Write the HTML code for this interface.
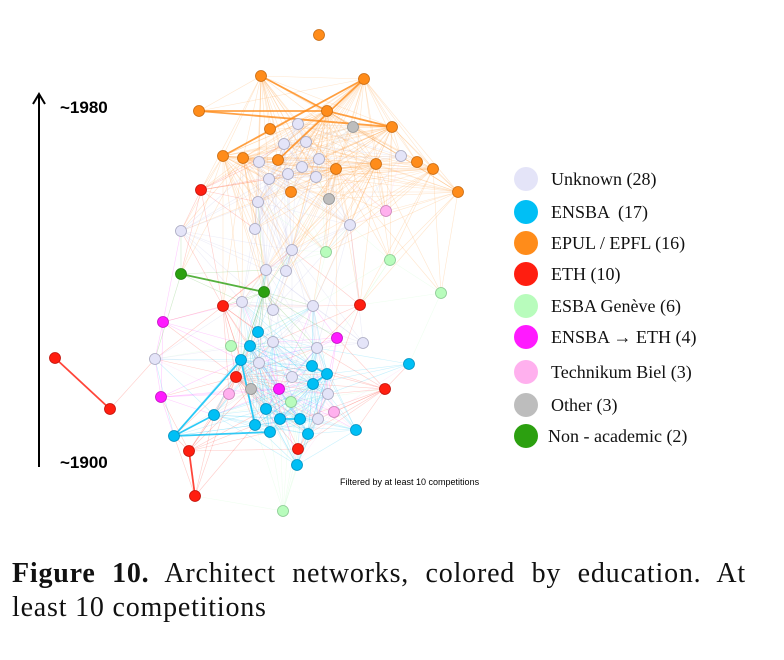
<!DOCTYPE html>
<html><head><meta charset="utf-8"><style>
body{margin:0;background:#fff;width:784px;height:660px;overflow:hidden;position:relative}
.cap{position:absolute;left:12px;width:734px;font-family:"Liberation Serif",serif;font-size:28px;letter-spacing:0.8px;color:#111;line-height:34px;white-space:nowrap}
</style></head><body>
<svg id="chart" width="784" height="540" style="position:absolute;left:0;top:0">
<g id="edges"></g>
<g id="nodes"></g>
<line x1="39" y1="467" x2="39" y2="96" stroke="#000" stroke-width="2"/>
<path d="M33,104 L39,94 L45,104" fill="none" stroke="#000" stroke-width="2"/>
<text x="60" y="113" font-family="Liberation Sans,sans-serif" font-weight="bold" font-size="17">~1980</text>
<text x="60" y="468" font-family="Liberation Sans,sans-serif" font-weight="bold" font-size="17">~1900</text>
<text x="340" y="485" font-family="Liberation Sans,sans-serif" font-size="9">Filtered by at least 10 competitions</text>
<g id="legend"></g>
</svg>
<div class="cap" style="top:557px;text-align:justify;text-align-last:justify"><b>Figure 10.</b> Architect networks, colored by education. At</div>
<div class="cap" style="top:591px;text-align:left">least 10 competitions</div>
<script>
const categories=["Unknown (28)","ENSBA  (17)","EPUL / EPFL (16)","ETH (10)","ESBA Genève (6)","ENSBA → ETH (4)","Technikum Biel (3)","Other (3)","Non - academic (2)"];
const colors=["#e4e4f8","#00bff5","#ff8c1a","#ff1e10","#b8fcbc","#ff1aff","#ffb0ee","#bdbdbd","#2ca010"];
const strokes=["#a8a8c0","#0090c0","#c86a10","#c01008","#88c890","#c010c0","#c880b8","#909090","#208010"];
const nodeX=[319,261,364,199,327,392,270,223,243,278,336,376,417,433,458,291,
201,353,329,298,284,306,259,319,302,288,269,316,401,258,255,350,181,386,
292,266,286,242,313,273,273,317,363,155,259,292,328,318,
326,390,441,231,291,283,181,264,223,360,55,236,110,385,189,298,195,
163,337,161,279,229,334,251,
258,250,241,312,327,313,409,266,214,280,300,255,270,308,356,174,297];
const nodeY=[35,76,79,111,111,127,129,156,158,160,169,164,162,169,192,192,
190,127,199,124,144,142,162,159,167,174,179,177,156,202,229,225,231,211,
250,270,271,302,306,310,342,348,343,359,363,377,394,419,
252,260,293,346,402,511,274,292,306,305,358,377,409,389,451,449,496,
322,338,397,389,394,412,389,
332,346,360,366,374,384,364,409,415,419,419,425,432,434,430,436,465];
const nodeCat=[2,2,2,2,2,2,2,2,2,2,2,2,2,2,2,2,
3,7,7,0,0,0,0,0,0,0,0,0,0,0,0,0,0,6,
0,0,0,0,0,0,0,0,0,0,0,0,0,0,
4,4,4,4,4,4,8,8,3,3,3,3,3,3,3,3,3,
5,5,5,5,6,6,7,
1,1,1,1,1,1,1,1,1,1,1,1,1,1,1,1,1];
const strongEdges=[[3,4],[3,5],[4,5],[1,4],[9,2],[7,2],[58,60],[62,64],[80,87],[74,87],[75,76],[76,77],[84,87],[81,82],[54,55],[74,83]];
const ns="http://www.w3.org/2000/svg";
const eg=document.getElementById('edges'),ng=document.getElementById('nodes'),lg=document.getElementById('legend');
const N=nodeX.length;
for(let i=0;i<N;i++){for(let j=i+1;j<N;j++){
 const dx=nodeX[i]-nodeX[j],dy=nodeY[i]-nodeY[j],d=Math.sqrt(dx*dx+dy*dy);
 const same=nodeCat[i]===nodeCat[j];
 const lim=(nodeCat[i]===2||nodeCat[j]===2)?170:(same?130:95);
 if(d<lim && ((i*7+j*3)%3!==0)){
  const l=document.createElementNS(ns,'line');
  
  
  l.setAttribute('x1',nodeX[i]);l.setAttribute('y1',nodeY[i]);l.setAttribute('x2',nodeX[j]);l.setAttribute('y2',nodeY[j]);
  const c=nodeCat[i]===0?colors[nodeCat[j]]:colors[nodeCat[i]];
  l.setAttribute('stroke',c==="#e4e4f8"?"#b0b0e0":c);l.setAttribute('stroke-width','0.6');l.setAttribute('opacity','0.22');
  eg.appendChild(l);
 }}}
strongEdges.forEach(e=>{
 const l=document.createElementNS(ns,'line');
 
 
 l.setAttribute('x1',nodeX[e[0]]);l.setAttribute('y1',nodeY[e[0]]);l.setAttribute('x2',nodeX[e[1]]);l.setAttribute('y2',nodeY[e[1]]);
 l.setAttribute('stroke',colors[nodeCat[e[0]]]);l.setAttribute('stroke-width','1.8');l.setAttribute('opacity','0.8');
 eg.appendChild(l);
});
for(let i=0;i<N;i++){
 const c=document.createElementNS(ns,'circle');
 
 
 c.setAttribute('cx',nodeX[i]);c.setAttribute('cy',nodeY[i]);c.setAttribute('r',5.5);
 c.setAttribute('fill',colors[nodeCat[i]]);c.setAttribute('stroke',strokes[nodeCat[i]]);c.setAttribute('stroke-width','0.8');
 ng.appendChild(c);
}
const legY=[179,212,243,274,306,337,372,405,436];
categories.forEach((t,k)=>{
 const c=document.createElementNS(ns,'circle');
 
 
 c.setAttribute('cx',526);c.setAttribute('cy',legY[k]);c.setAttribute('r',12);c.setAttribute('fill',colors[k]);
 lg.appendChild(c);
 const tx=document.createElementNS(ns,'text');
 
 
 tx.setAttribute('x',k===8?548:551);tx.setAttribute('y',legY[k]+6);
 tx.setAttribute('font-family','Liberation Serif,serif');tx.setAttribute('font-size','18');tx.setAttribute('fill','#111');
 tx.style.whiteSpace='pre';
 tx.textContent=t;lg.appendChild(tx);
});
</script>
</body></html>
